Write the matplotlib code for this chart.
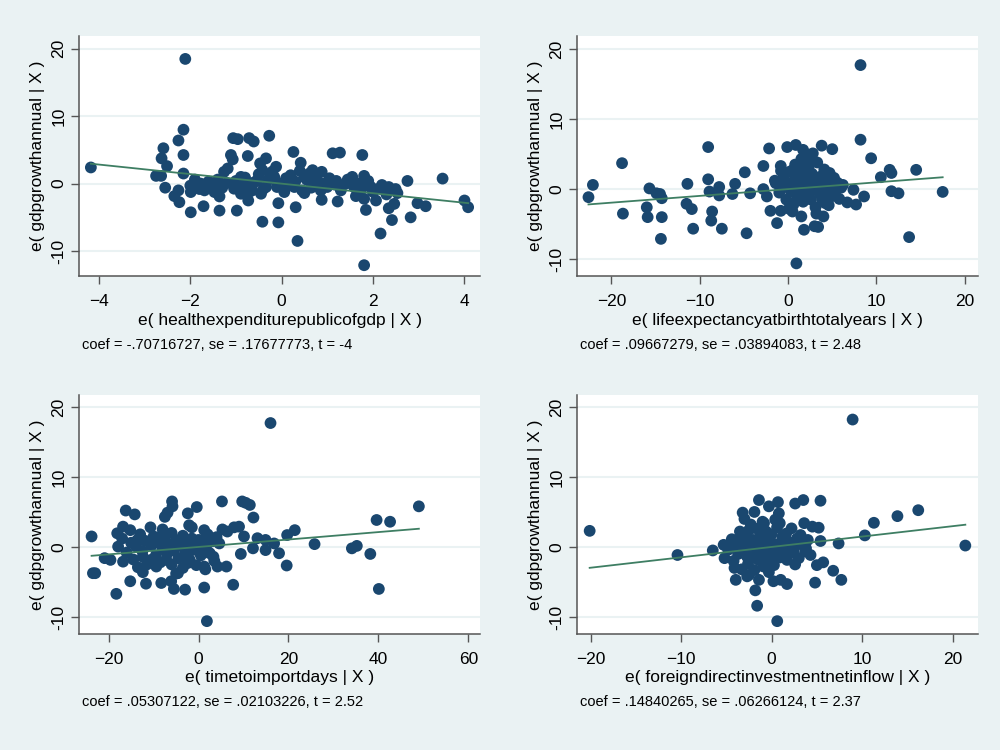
import matplotlib
matplotlib.use("Agg")
import matplotlib.pyplot as plt
import numpy as np

plt.rcParams['font.family'] = ['Liberation Sans', 'DejaVu Sans']

# residual pairs (x, y)
health_pts = [
    (-4.18, 2.4), (-2.11, 18.5), (-2.15, 8.0), (-2.26, 6.4), (-2.59, 5.25), (-2.63, 3.75),
    (-2.51, 2.6), (-2.15, 4.25), (-2.15, 1.5), (-2.75, 1.15), (-2.64, 1.15), (-2.55, -0.6),
    (-2.35, -1.85), (-2.24, -2.75), (-2.26, -1.0), (-1.99, -4.25), (-1.99, -1.25), (-1.91, -0.25),
    (-1.77, 0.0), (-1.69, -1.0), (-1.71, -3.35), (-1.58, -0.5), (-1.47, -1.25), (-1.36, -1.9),
    (-1.36, -4.0), (-1.26, 1.75), (-1.18, 2.25), (-1.11, 4.25), (-1.07, 3.6), (-1.06, 6.75),
    (-0.96, 6.6), (-0.89, 1.0), (-0.98, -4.0), (-1.04, -0.75), (-0.89, -1.5), (-0.74, 4.1),
    (-0.71, 6.75), (-0.61, 6.25), (-0.78, -0.5), (-0.73, -2.5), (-0.64, -1.0), (-0.53, 0.5),
    (-0.47, 3.0), (-0.42, 2.0), (-0.34, 3.75), (-0.27, 7.1), (-0.42, -5.65), (-0.45, -1.5),
    (-0.34, -0.5), (-0.27, 0.75), (-0.12, 2.5), (-0.16, 1.0), (-0.07, -2.9), (-0.07, -5.75),
    (-0.01, 0.0), (0.06, -1.25), (0.2, 1.25), (0.26, 4.7), (0.31, -3.5), (0.35, -8.5),
    (0.28, -0.5), (0.42, 3.1), (0.5, 1.0), (0.5, -1.4), (0.61, 1.5), (0.68, 2.0),
    (0.72, -0.25), (0.88, 1.75), (0.88, -2.4), (0.86, -1.0), (0.93, 0.0), (1.12, 4.5),
    (1.28, 4.6), (1.17, -0.15), (1.23, -2.65), (1.41, 0.0), (1.55, 1.0), (1.59, -0.5),
    (1.63, -1.85), (1.7, 0.0), (1.77, 4.25), (1.81, 1.15), (1.81, -2.25), (1.85, -3.9),
    (1.81, -12.1), (1.96, -0.5), (2.07, -2.5), (2.14, -0.75), (2.17, -7.4), (2.35, -0.5),
    (2.35, -3.65), (2.47, -3.0), (2.42, -5.4), (2.54, -1.4), (2.76, 0.4), (2.83, -5.0),
    (2.98, -2.9), (3.16, -3.35), (3.53, 0.75), (4.01, -2.5), (4.09, -3.5),
    (-1.8, -0.8), (-1.6, 0.3), (-1.5, -0.4), (-1.4, 0.6), (-1.3, -0.6), (-1.2, 0.1),
    (-1.0, 0.4), (-0.9, -0.3), (-0.8, 0.9), (-0.7, -1.2), (-0.6, 0.2), (-0.5, 1.4),
    (-0.4, -0.8), (-0.3, 0.5), (-0.2, 1.8), (-0.1, -0.5), (0.1, 0.8), (0.15, -0.3),
    (0.3, 0.3), (0.4, 1.9), (0.45, -1.0), (0.55, 0.6), (0.65, -0.6), (0.75, 1.2),
    (0.8, 0.3), (1.0, -0.5), (1.05, 0.8), (1.2, 0.4), (1.3, -1.0), (1.45, 0.6),
    (1.6, 0.2), (1.75, -0.8), (1.9, 0.4), (2.0, -1.2), (2.2, -0.2), (2.3, -1.6),
    (2.5, -0.8), (-1.9, 0.6), (-2.0, -0.3),
]

life_pts = [
    (-22.6, -1.15), (-22.1, 0.6), (-18.8, 3.7), (-18.7, -3.5), (-16.0, -2.6), (-15.9, -4.0),
    (-15.7, 0.1), (-14.9, -0.6), (-14.5, -0.7), (-14.3, -1.3), (-14.3, -4.0), (-14.4, -7.1),
    (-11.4, 0.75), (-11.5, -2.1), (-10.9, -2.85), (-10.75, -5.65), (-9.05, 6.0), (-9.05, 1.4),
    (-8.9, -0.35), (-8.6, -3.2), (-8.7, -4.5), (-7.8, 0.3), (-7.8, -0.9), (-7.5, -5.65),
    (-6.3, -0.7), (-6.0, 0.75), (-4.9, 2.4), (-4.7, -6.3), (-4.3, -0.6), (-2.8, 3.3),
    (-2.8, 0.0), (-2.4, -1.05), (-2.15, 5.8), (-2.0, -3.1), (-1.25, -4.85), (-0.83, 3.3),
    (-0.83, -3.1), (-1.4, 0.85), (-0.57, 0.4), (-0.1, 6.0), (0.57, 2.75), (0.5, -3.2),
    (0.87, 6.3), (0.94, -10.6), (1.3, 1.8), (1.5, -3.9), (1.7, 5.6), (1.8, -5.8),
    (2.1, 3.7), (2.6, -0.1), (2.8, 5.1), (3.0, -5.3), (3.4, -5.4), (3.8, 6.2),
    (4.0, -3.9), (4.2, -2.0), (4.7, 2.3), (5.0, 5.7), (5.1, 0.1), (6.2, 0.6),
    (6.7, -1.9), (7.4, -0.1), (7.7, -2.2), (8.2, 7.05), (8.2, 17.7), (8.6, -1.05),
    (9.4, 4.4), (10.5, 1.7), (11.5, 2.75), (11.7, 2.3), (11.7, -0.3), (12.5, -0.6),
    (13.7, -6.85), (14.5, 2.75), (17.5, -0.4),
    (-1.5, 1.2), (-1.0, -0.5), (-0.5, 1.8), (-0.2, -1.5), (0.0, 0.5), (0.2, 2.5),
    (0.3, -0.3), (0.5, 1.0), (0.6, -2.2), (0.8, 3.5), (0.9, 0.2), (1.0, -1.0),
    (1.1, 1.6), (1.3, -0.2), (1.4, 2.8), (1.6, 0.8), (1.7, -1.8), (1.9, 0.3),
    (2.0, 1.9), (2.2, -0.8), (2.3, 3.0), (2.4, 0.9), (2.6, -1.5), (2.7, 2.2),
    (2.9, 0.0), (3.0, 1.3), (3.1, -2.6), (3.3, 3.8), (3.4, 0.6), (3.6, -0.7),
    (3.7, 1.8), (3.9, -1.6), (4.0, 0.3), (4.1, 2.8), (4.3, -0.3), (4.5, 1.2),
    (4.6, -2.3), (4.8, 0.5), (5.0, -1.0), (5.2, 1.6), (5.4, -0.2), (5.6, 0.9),
    (5.8, -1.4), (6.0, 0.2), (-0.8, 2.6), (0.1, -2.8), (1.5, 4.3), (2.5, 4.5), (3.2, -3.5),
]

import_pts = [
    (-23.8, 1.5), (-23.5, -3.75), (-23.0, -3.75), (-20.9, -1.6), (-19.6, -1.85), (-18.3, -6.7),
    (-18.1, 1.95), (-17.9, 0.05), (-16.8, 2.9), (-16.8, -2.1), (-16.2, 5.2), (-15.2, 2.4),
    (-15.2, -4.9), (-14.2, 4.65), (-13.9, 0.05), (-13.6, 1.0), (-12.4, -1.4), (-12.4, -3.6),
    (-11.7, -5.25), (-11.1, 0.75), (-10.7, 2.8), (-10.6, -1.85), (-9.4, -2.8), (-8.3, -5.15),
    (-8.3, 1.5), (-7.5, 4.3), (-6.9, 4.9), (-5.9, 6.5), (-5.8, 5.8), (-6.9, -0.2),
    (-7.2, -1.85), (-5.5, -6.0), (-4.6, -3.75), (-6.1, -4.9), (-3.0, -6.1), (-2.4, 4.8),
    (-2.1, 3.1), (-2.4, -2.3), (-0.4, 5.7), (-0.2, 0.05), (1.25, 2.4), (1.25, -2.8),
    (1.25, -5.8), (1.85, -10.6), (2.0, -0.65), (3.3, -1.4), (4.2, -2.8), (4.6, 0.5),
    (5.2, 6.5), (5.3, 2.5), (6.2, -2.8), (6.4, 2.2), (7.7, -5.4), (7.9, 2.8),
    (9.0, 2.9), (9.4, -1.0), (9.7, 6.5), (10.1, 1.5), (10.5, 6.3), (11.4, 6.0),
    (12.2, 4.2), (12.1, -0.2), (13.1, 1.25), (14.9, -0.45), (14.9, 1.0), (16.0, 17.7),
    (16.8, 0.5), (17.9, -0.9), (19.6, -2.65), (19.7, 1.7), (21.4, 2.4), (25.8, 0.4),
    (34.1, -0.2), (35.2, 0.15), (38.2, -1.0), (39.6, 3.85), (40.1, -6.0), (42.6, 3.6),
    (49.0, 5.8),
    (-17.0, 1.2), (-16.0, -0.8), (-15.0, 0.6), (-14.5, -1.8), (-13.0, 1.8), (-12.5, -0.6),
    (-12.0, 0.9), (-11.5, -2.5), (-10.5, 0.2), (-10.0, 1.5), (-9.5, -1.2), (-9.0, 0.6),
    (-8.5, -2.2), (-8.0, -0.3), (-7.5, 1.0), (-7.0, -1.0), (-6.5, 0.4), (-6.0, 2.0),
    (-6.0, -2.5), (-5.5, -0.5), (-5.0, 0.9), (-4.5, -1.6), (-4.0, 0.2), (-3.5, 1.6),
    (-3.5, -3.0), (-3.0, -0.8), (-2.5, 0.6), (-2.0, -1.8), (-1.5, 1.2), (-1.0, -0.4),
    (-0.5, -2.6), (0.0, 1.0), (0.5, -1.2), (1.0, 0.4), (2.0, 1.8), (2.5, -0.9),
    (3.0, 0.8), (3.5, -2.0), (4.0, 1.4), (-13.5, -2.9), (-8.0, 2.5), (-5.0, -3.8),
    (-1.5, 2.8), (1.5, -3.2),
]

fdi_pts = [
    (-20.1, 2.3), (-10.4, -1.15), (-6.5, -0.5), (-5.3, 0.3), (-5.2, -1.6), (-4.5, 0.5),
    (-3.96, -4.7), (-4.1, -3.0), (-3.2, 4.9), (-3.4, 1.2), (-2.7, -1.4), (-2.7, -4.2),
    (-2.5, 2.4), (-2.1, -1.4), (-1.9, 5.0), (-1.8, -6.2), (-1.6, -8.4), (-1.4, 6.7),
    (-1.4, -4.7), (-1.2, 1.9), (-0.84, 3.4), (-0.3, 5.8), (-0.1, 0.5), (0.2, -4.9),
    (0.26, -2.6), (0.62, -10.6), (0.7, 6.4), (0.8, 4.8), (0.9, 3.4), (1.0, -4.7),
    (1.2, 1.5), (1.7, -5.3), (1.7, -1.85), (2.2, 2.65), (2.5, 0.05), (2.6, 6.2),
    (2.6, -2.5), (3.2, 1.7), (3.5, 6.7), (3.6, 3.4), (3.7, -0.65), (4.3, -1.15),
    (4.5, 2.9), (4.8, -5.1), (5.0, -2.6), (5.2, 2.75), (5.4, 6.6), (5.4, 0.85),
    (5.7, -2.2), (6.8, -3.4), (7.4, 0.5), (7.7, -4.7), (8.95, 18.2), (10.3, 1.65),
    (11.3, 3.45), (13.9, 4.4), (16.2, 5.25), (21.4, 0.2),
    (-4.8, -0.4), (-4.4, 1.1), (-4.2, -2.0), (-3.9, 0.2), (-3.7, -1.0), (-3.5, 2.2),
    (-3.3, -3.2), (-3.1, 0.7), (-2.9, -0.6), (-2.8, 1.6), (-2.6, -2.4), (-2.4, 0.3),
    (-2.3, 3.2), (-2.2, -1.2), (-2.0, 1.0), (-1.9, -3.3), (-1.8, -0.2), (-1.6, 2.6),
    (-1.5, -1.8), (-1.3, 0.6), (-1.2, -0.8), (-1.0, 1.6), (-0.9, -2.8), (-0.8, 0.1),
    (-0.6, 2.2), (-0.5, -1.4), (-0.4, 0.9), (-0.2, -0.4), (0.0, 1.8), (0.1, -2.0),
    (0.3, 0.4), (0.5, -0.8), (0.6, 2.8), (0.9, -1.5), (1.1, 0.8), (1.4, -0.3),
    (1.6, 1.9), (1.9, -1.0), (2.1, 0.6), (2.4, -0.6), (2.8, 1.2), (3.0, -1.6),
    (3.4, 0.3), (3.8, -0.2), (4.0, 1.0), (-3.0, 4.0), (-1.0, 3.6), (0.4, 3.9),
    (-2.5, -4.0), (-0.3, -3.6),
]

x_labels = ["e( healthexpenditurepublicofgdp | X )",
            "e( lifeexpectancyatbirthtotalyears | X )",
            "e( timetoimportdays | X )",
            "e( foreigndirectinvestmentnetinflow | X )"]
coefs = [-.70716727, .09667279, .05307122, .14840265]
notes = ["coef = -.70716727, se = .17677773, t = -4",
         "coef = .09667279, se = .03894083, t = 2.48",
         "coef = .05307122, se = .02103226, t = 2.52",
         "coef = .14840265, se = .06266124, t = 2.37"]
x_ticks = [[-4, -2, 0, 2, 4], [-20, -10, 0, 10, 20], [-20, 0, 20, 40, 60], [-20, -10, 0, 10, 20]]
y_ticks = [-10, 0, 10, 20]
y_label = "e( gdpgrowthannual | X )"

bg = "#EAF2F3"
navy = "#1A476F"
fit_col = "#3E7E63"

fig = plt.figure(figsize=(10, 7.5), dpi=100, facecolor=bg)

# axes boxes in figure fractions, limits from the reference
boxes = [[0.079, 0.632, 0.401, 0.320], [0.577, 0.632, 0.401, 0.320],
         [0.079, 0.155, 0.401, 0.318], [0.577, 0.155, 0.401, 0.318]]
xlims = [(-4.44, 4.35), (-23.9, 21.5), (-26.6, 62.6), (-21.5, 22.8)]
ylims = [(-13.7, 21.9), (-12.4, 21.85), (-12.4, 21.67), (-12.4, 21.67)]
note_pos = [(0.082, 0.540), (0.580, 0.540), (0.082, 0.064), (0.580, 0.064)]

panels = [health_pts, life_pts, import_pts, fdi_pts]

for i, pts in enumerate(panels):
    pts = np.array(pts)
    ax = fig.add_axes(boxes[i])
    ax.set_facecolor("white")
    for yt in y_ticks:
        ax.axhline(yt, color=bg, lw=1.5, zorder=0)
    ax.scatter(pts[:, 0], pts[:, 1], s=72, color=navy, edgecolors="none", zorder=2)
    xs = np.array([pts[:, 0].min(), pts[:, 0].max()])
    ax.plot(xs, coefs[i] * xs, color=fit_col, lw=1.3, zorder=3)

    ax.set_xlim(*xlims[i])
    ax.set_ylim(*ylims[i])
    ax.set_xticks(x_ticks[i])
    ax.set_yticks(y_ticks)
    ax.set_yticklabels([str(v) for v in y_ticks], rotation=90, va="center")
    ax.tick_params(axis="both", labelsize=12.5, length=6, width=1, color="#555555")
    ax.tick_params(axis="x", pad=7)
    ax.tick_params(axis="y", pad=3)
    for side in ["top", "right"]:
        ax.spines[side].set_visible(False)
    for side in ["left", "bottom"]:
        ax.spines[side].set_color("#555555")
        ax.spines[side].set_linewidth(1.1)
    ax.set_xlabel(x_labels[i], fontsize=12.5, labelpad=2.5)
    ax.set_ylabel(y_label, fontsize=12.5, labelpad=5)
    fig.text(note_pos[i][0], note_pos[i][1], notes[i], fontsize=10.5, va="center", ha="left")

fig.savefig("out.png", dpi=100, facecolor=bg)
